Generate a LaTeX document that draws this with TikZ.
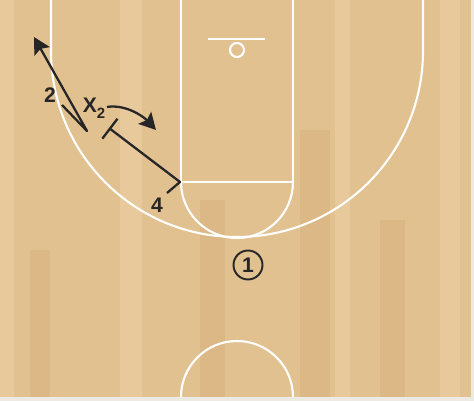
\documentclass[tikz,border=0pt]{standalone}
\usepackage{fontspec}
\setmainfont{Liberation Sans}
\usetikzlibrary{arrows.meta}
\definecolor{frame}{HTML}{EDEAE4}
\definecolor{wood}{HTML}{E2C190}
\definecolor{wooddark}{HTML}{DBB886}
\definecolor{woodlight}{HTML}{E7C99B}
\definecolor{ink}{HTML}{262626}
\tikzstyle{courtline} = [white, line width=1.2pt]
\tikzstyle{move} = [ink, line width=1.3pt, line join=round]
\tikzstyle{arrow} = [move, -{Stealth[length=3.3mm,width=3.5mm,inset=0.6mm]}]
\tikzstyle{screen} = [move, -{Bar[width=5mm]}]
\tikzstyle{player} = [font=\fontsize{12}{14}\selectfont\bfseries, text=ink, inner sep=1pt]
\tikzstyle{ball} = [player, circle, draw=ink, line width=1.1pt, minimum size=5.8mm]

\begin{document}
\begin{tikzpicture}[x=0.02cm, y=-0.02cm]
    \useasboundingbox (0,0) rectangle (474,401);
    \fill [frame] (0,0) rectangle (474,401);
    \fill [wood] (0,0) rectangle (471,397);
    \foreach \x/\w/\ya/\yb/\c in {0/14/0/397/woodlight, 30/20/250/397/wooddark,
        120/22/0/397/woodlight, 200/25/200/397/wooddark, 300/30/130/397/wooddark,
        335/15/0/397/woodlight, 380/25/220/397/wooddark, 440/20/0/397/woodlight}
        \fill [\c] (\x,\ya) rectangle (\x+\w,\yb);

    \draw [courtline] (181,0) -- (181,182) -- (293,182) -- (293,0);
    \draw [courtline] (181,182) arc[start angle=180, end angle=0, radius=56];
    \draw [courtline] (51,0) -- (51,51) arc[start angle=180, end angle=0, radius=186] -- (423,0);
    \draw [courtline] (208,39) -- (265,39);
    \draw [courtline] (237,50) circle (7);
    \draw [courtline] (181,397) arc[start angle=180, end angle=360, radius=56];

    \node (two) [player] at (50,95) {2};
    \node (xtwo) [player] at (94,108) {X\raisebox{-3.5pt}{\fontsize{8.5}{10}\selectfont 2}};
    \node (four) [player] at (157,205) {4};
    \node (one) [ball] at (248,265) {1};

    \coordinate (cutstart) at (62,105);
    \coordinate (cutturn) at (87,131);
    \coordinate (cutend) at (34,37);
    \coordinate (screenstart) at (167,193);
    \coordinate (screencorner) at (180,182);
    \coordinate (screenend) at (109,128);
    \coordinate (shiftstart) at (107,107);
    \coordinate (shiftend) at (156,130);

    \draw [arrow] (cutstart) -- (cutturn) -- (cutend);
    \draw [screen] (screenstart) -- (screencorner) -- (screenend);
    \draw [arrow] (shiftstart) .. controls (125,104) and (143,116) .. (shiftend);
\end{tikzpicture}
\end{document}
